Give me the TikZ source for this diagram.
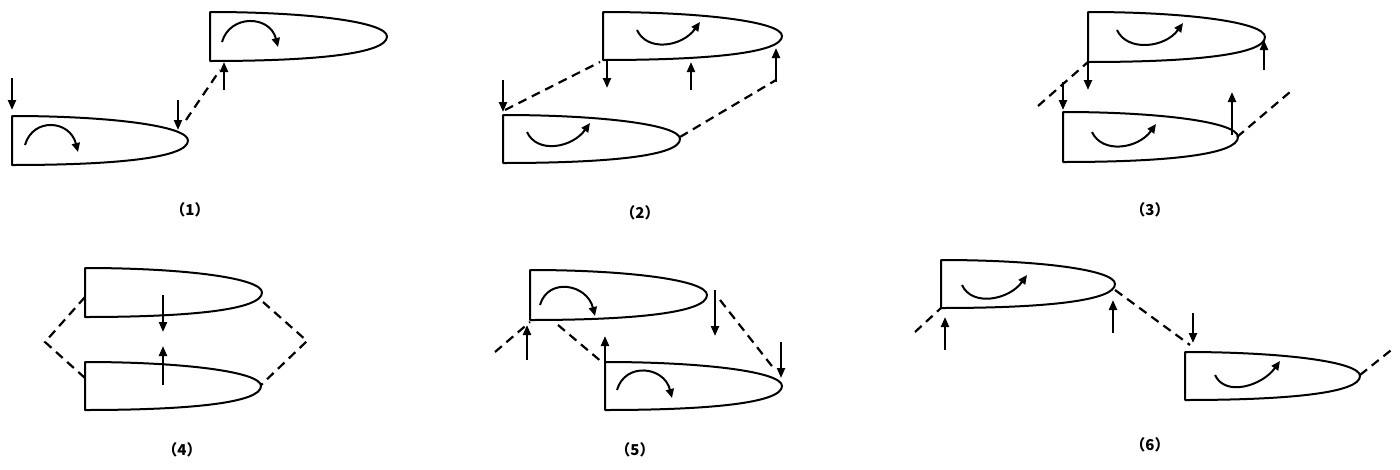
\documentclass[tikz,border=0pt]{standalone}
\usepackage{fontspec}
\newfontfamily\cjk{Noto Sans CJK SC}
\usetikzlibrary{arrows.meta}
\newcommand\foil[4]{% left top right bottom
  \draw[foilline] (#1,#2) -- (#1,#4) .. controls ({#1+0.6*(#3-#1)},#4) and (#3,{#4-0.15*(#4-#2)}) .. (#3,{0.5*(#2+#4)}) .. controls (#3,{#2+0.2*(#4-#2)}) and ({#1+0.55*(#3-#1)},#2) .. (#1,#2) -- cycle;}
\newcommand\cwarc[4]{\draw[rot] (#1,#2) .. controls ({#1+8},{#2-28}) and ({#3-8},{#4-32}) .. (#3,#4);}
\newcommand\ccwarc[4]{\draw[rot] (#1,#2) .. controls ({#1+10},{#2+22}) and ({#3-18},{#4+25}) .. (#3,#4);}
\begin{document}
\begin{tikzpicture}[x=1pt,y=-1pt,
  foilline/.style={line width=2pt, line join=round},
  rot/.style={line width=2pt,-{Triangle[length=9pt,width=8pt]}},
  force/.style={line width=2.2pt,-{Triangle[length=10pt,width=8pt]}},
  dsh/.style={line width=2.2pt,dash pattern=on 9pt off 6pt},
  lab/.style={font=\cjk\bfseries\fontsize{15}{15}\selectfont}]
\useasboundingbox (0,0) rectangle (1400,469);
% (1)
\foil{12}{116}{188}{165}\foil{210}{12}{387}{61}
\cwarc{25}{145}{78}{152}\cwarc{222}{42}{278}{47}
\draw[force] (12,78) -- (12,110);
\draw[force] (178,100) -- (178,130);
\draw[force] (224,90) -- (224,62);
\draw[dsh] (186,120) -- (220,70);
\node[lab] (l1) at (190,210) {（1）};
% (2)
\foil{503}{115}{680}{163}\foil{603}{12}{782}{60}
\ccwarc{527}{132}{590}{123}\ccwarc{637}{30}{700}{22}
\draw[force] (503,80) -- (503,112);
\draw[force] (607,60) -- (607,88);
\draw[force] (691,90) -- (691,62);
\draw[force] (776,82) -- (776,48);
\draw[dsh] (505,110) -- (600,62);
\draw[dsh] (680,137) -- (776,80);
\node[lab] (l2) at (640,213) {（2）};
% (3)
\foil{1063}{112}{1238}{162}\foil{1088}{12}{1265}{62}
\ccwarc{1092}{132}{1156}{124}\ccwarc{1117}{30}{1183}{23}
\draw[force] (1088,62) -- (1088,90);
\draw[force] (1063,82) -- (1063,110);
\draw[force] (1264,70) -- (1264,40);
\draw[force] (1232,135) -- (1232,92);
\draw[dsh] (1038,106) -- (1088,62);
\draw[dsh] (1237,137) -- (1290,92);
\node[lab] (l3) at (1150,210) {（3）};
% (4)
\foil{85}{268}{262}{317}\foil{85}{362}{261}{410}
\draw[force] (163,295) -- (163,332);
\draw[force] (163,385) -- (163,346);
\draw[dsh] (85,297) -- (45,342) -- (85,378);
\draw[dsh] (263,302) -- (307,341) -- (261,385);
\node[lab] (l4) at (182,450) {（4）};
% (5)
\foil{530}{270}{707}{320}\foil{605}{362}{782}{410}
\cwarc{540}{305}{595}{316}\cwarc{617}{390}{672}{398}
\draw[force] (527,360) -- (527,325);
\draw[force] (605,365) -- (605,336);
\draw[force] (715,290) -- (715,336);
\draw[force] (781,342) -- (781,378);
\draw[dsh] (495,352) -- (530,322);
\draw[dsh] (558,325) -- (603,363);
\draw[dsh] (720,300) -- (775,370);
\node[lab] (l5) at (635,450) {（5）};
% (6)
\foil{941}{260}{1115}{308}\foil{1185}{352}{1360}{400}
\ccwarc{962}{285}{1027}{275}\ccwarc{1215}{375}{1280}{361}
\draw[force] (945,350) -- (945,317);
\draw[force] (1113,333) -- (1113,300);
\draw[force] (1193,313) -- (1193,343);
\draw[dsh] (915,332) -- (941,308);
\draw[dsh] (1115,290) -- (1190,345);
\draw[dsh] (1360,375) -- (1395,347);
\node[lab] (l6) at (1150,445) {（6）};
\end{tikzpicture}
\end{document}
